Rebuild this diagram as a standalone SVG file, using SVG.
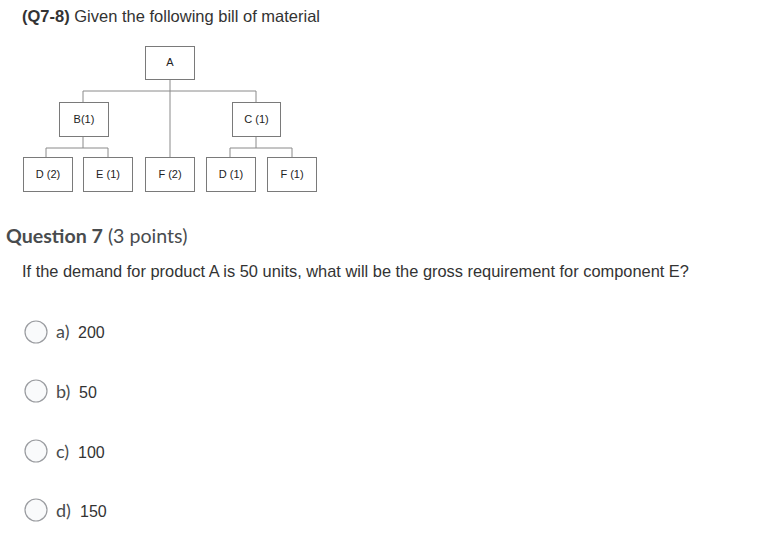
<svg xmlns="http://www.w3.org/2000/svg" width="772" height="540" viewBox="0 0 772 540">
<style>
.bx{fill:#fff;stroke:#7a7a7a;stroke-width:1}
.ln{fill:none;stroke:#8a8a8a;stroke-width:1}
.nt{font-family:"Liberation Sans",Arial,sans-serif;font-size:11px;fill:#222;text-anchor:middle}
.ar{font-family:"Liberation Sans",Arial,sans-serif;fill:#333}
.lt{font-family:Lato,"Liberation Sans",sans-serif;fill:#494c4e}
.rd{fill:#f9fafb;stroke:#9a9ca0;stroke-width:1.2}
</style>
<rect width="772" height="540" fill="#fff"/>
<text x="22" y="22" class="ar" font-size="16.5"><tspan font-weight="bold">(Q7-8)</tspan> Given the following bill of material</text>
<g id="connectors">
<path class="ln" d="M170,79 V157 M83,91 H256 M83,91 V102 M256,91 V102 M83,137 V148 M46,148 H108 M46,148 V157 M108,148 V157 M256,137 V148 M230,148 H292 M230,148 V157 M292,148 V157"/>
</g>
<g id="A"><rect class="bx" x="145.5" y="46.5" width="49" height="33"/><text class="nt" x="170" y="66">A</text></g>
<g id="B1"><rect class="bx" x="59.5" y="102.5" width="49" height="34"/><text class="nt" x="84" y="123">B(1)</text></g>
<g id="C1"><rect class="bx" x="232.5" y="102.5" width="48" height="34"/><text class="nt" x="256.5" y="123">C (1)</text></g>
<g id="D2"><rect class="bx" x="23.5" y="157.5" width="49" height="34"/><text class="nt" x="48" y="178">D (2)</text></g>
<g id="E1"><rect class="bx" x="83.5" y="157.5" width="49" height="34"/><text class="nt" x="108" y="178">E (1)</text></g>
<g id="F2"><rect class="bx" x="145.5" y="157.5" width="49" height="34"/><text class="nt" x="170" y="178">F (2)</text></g>
<g id="D1"><rect class="bx" x="206.5" y="157.5" width="49" height="34"/><text class="nt" x="231" y="178">D (1)</text></g>
<g id="F1"><rect class="bx" x="267.5" y="157.5" width="49" height="34"/><text class="nt" x="292" y="178">F (1)</text></g>
<text x="6" y="243" class="lt" font-size="19.6"><tspan font-weight="bold">Question 7</tspan> (3 points)</text>
<text x="22" y="277" class="ar" font-size="16.4">If the demand for product A is 50 units, what will be the gross requirement for component E?</text>
<circle class="rd" cx="36" cy="332" r="11"/>
<text x="56" y="338" class="lt" font-size="18">a)</text><text x="78" y="338" class="ar" font-size="16">200</text>
<circle class="rd" cx="36" cy="391" r="11"/>
<text x="56" y="398" class="lt" font-size="18">b)</text><text x="79" y="398" class="ar" font-size="16">50</text>
<circle class="rd" cx="36" cy="451" r="11"/>
<text x="56" y="458" class="lt" font-size="18">c)</text><text x="78" y="458" class="ar" font-size="16">100</text>
<circle class="rd" cx="36" cy="510" r="11"/>
<text x="56" y="517" class="lt" font-size="18">d)</text><text x="80" y="517" class="ar" font-size="16">150</text>
</svg>
